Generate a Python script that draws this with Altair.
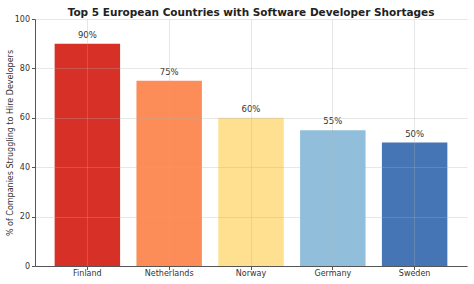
import altair as alt
import pandas as pd

countries = ["Finland", "Netherlands", "Norway", "Germany", "Sweden"]
values = [90, 75, 60, 55, 50]
colors = ["#d73027", "#fc8d59", "#fee090", "#91bfdb", "#4575b4"]

df = pd.DataFrame({"country": countries, "value": values,
                   "label": [f"{v}%" for v in values]})

FONT = "DejaVu Sans"

x = alt.X("country:N", sort=countries, title=None,
          scale=alt.Scale(paddingInner=0.2, paddingOuter=0.24),
          axis=alt.Axis(labelAngle=0, bandPosition=0.5, grid=True,
                        zindex=1, labelPadding=0))
y = alt.Y("value:Q", title="% of Companies Struggling to Hire Developers",
          scale=alt.Scale(domain=[0, 100], nice=False),
          axis=alt.Axis(values=[0, 20, 40, 60, 80, 100], grid=True, zindex=1,
                        labelPadding=2, titlePadding=0))

bars = alt.Chart(df).mark_bar().encode(
    x=x, y=y,
    color=alt.Color("country:N", sort=countries,
                    scale=alt.Scale(domain=countries, range=colors), legend=None),
)

text = alt.Chart(df).mark_text(baseline="bottom", dy=-4, font=FONT, fontSize=8.5,
                               color="#333333").encode(
    x=alt.X("country:N", sort=countries),
    y="value:Q",
    text="label:N",
)

chart = (bars + text).properties(
    width=432, height=247,
    title=alt.TitleParams("Top 5 European Countries with Software Developer Shortages",
                          font=FONT, fontSize=10.5, fontWeight="bold", color="#222222",
                          anchor="middle", offset=-3),
    padding={"left": 35, "top": 19, "right": 7, "bottom": 18},
    autosize=alt.AutoSizeParams(type="none"),
).configure_view(stroke=None).configure_axis(
    labelFont=FONT, titleFont=FONT, labelFontSize=8, titleFontSize=8,
    labelColor="#333333", titleColor="#333333", titleFontWeight="normal",
    domainColor="#555555", tickColor="#555555", tickSize=3.5,
    gridColor="#b0b0b0", gridOpacity=0.3,
)

chart.save("out.html", embed_options={"renderer": "svg", "actions": False})
